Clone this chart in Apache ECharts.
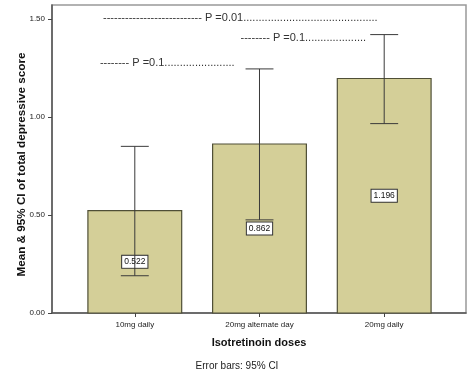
<!DOCTYPE html>
<html><head><meta charset="utf-8">
<script src="https://cdn.jsdelivr.net/npm/echarts@6/dist/echarts.min.js"></script>
<style>html,body{margin:0;padding:0;background:#fff}#c{width:474px;height:379px}</style>
</head><body><div id="c"></div>
<script>
const categories = ['10mg daily', '20mg alternate day', '20mg daily'];
const means = [0.522, 0.862, 1.196];
const ciLower = [0.19, 0.475, 0.966];
const ciUpper = [0.85, 1.245, 1.42];
const yTicks = [0, 0.5, 1.0, 1.5];
const annotations = [
  [-0.255, 1.505, '--------------------------- P =0.01............................................'],
  [0.848, 1.403, '-------- P =0.1....................'],
  [-0.28, 1.275, '-------- P =0.1.......................']
];

const FONT = '"Liberation Sans", Arial, sans-serif';
const chart = echarts.init(document.getElementById('c'), null, {renderer: 'canvas'});
const catIdx = categories.map((c, i) => i);

chart.setOption({
  animation: false,
  backgroundColor: '#fff',
  grid: {left: 52, right: 8, top: 5, bottom: 66, show: true, borderColor: '#999', borderWidth: 1.5, backgroundColor: 'transparent', outerBoundsMode: 'none'},
  xAxis: {
    type: 'value', min: -0.664, max: 2.656,
    splitLine: {show: false},
    axisLine: {show: true, onZero: false, lineStyle: {color: '#555', width: 1.5}},
    axisTick: {show: true, customValues: catIdx, length: 4, lineStyle: {color: '#444'}},
    axisLabel: {show: true, customValues: catIdx, formatter: v => categories[Math.round(v)], fontSize: 8, color: '#222', fontFamily: FONT, margin: 8},
    name: 'Isotretinoin doses', nameLocation: 'middle', nameGap: 24, nameMoveOverlap: false,
    nameTextStyle: {fontSize: 11, fontWeight: 'bold', color: '#111', fontFamily: FONT}
  },
  yAxis: {
    type: 'value', min: 0, max: 1.571,
    splitLine: {show: false},
    axisLine: {show: true, onZero: false, lineStyle: {color: '#555', width: 1.5}},
    axisTick: {show: true, customValues: yTicks, length: 4, lineStyle: {color: '#444'}},
    axisLabel: {customValues: yTicks, formatter: v => v.toFixed(2), fontSize: 8, color: '#222', fontFamily: FONT, margin: 7},
    name: 'Mean & 95% CI of total depressive score', nameLocation: 'middle', nameGap: 24, nameMoveOverlap: false,
    nameTextStyle: {fontSize: 11.7, fontWeight: 'bold', color: '#111', fontFamily: FONT, padding: [0, 11, 0, 0]}
  },
  graphic: [{
    type: 'text', left: 'center', top: 361,
    style: {text: 'Error bars: 95% CI', fontSize: 10, fill: '#222', fontFamily: FONT},
    x: -22
  }],
  series: [
    {
      type: 'custom', z: 2,
      data: means.map((m, i) => [i, m]),
      renderItem: (params, api) => {
        const i = api.value(0), v = api.value(1);
        const top = api.coord([i, v]);
        const base = api.coord([i, 0]);
        const w = api.size([0.752, 0])[0];
        const mid = api.coord([i, v / 2]);
        return {type: 'group', children: [
          {type: 'rect', shape: {x: top[0] - w / 2, y: top[1], width: w, height: base[1] - top[1]},
           style: {fill: '#d4cf98', stroke: '#4f4f36', lineWidth: 1.2}},
          {type: 'text', z2: 10, x: mid[0], y: mid[1],
           style: {text: v.toFixed(3), fontSize: 8.5, fontFamily: FONT, fill: '#111', align: 'center', verticalAlign: 'middle',
                   backgroundColor: '#fff', borderColor: '#333', borderWidth: 1, padding: [2, 2, 1, 2]}}
        ]};
      }
    },
    {
      type: 'custom', z: 3,
      data: ciLower.map((l, i) => [i, l, ciUpper[i]]),
      renderItem: (params, api) => {
        const i = api.value(0);
        const lo = api.coord([i, api.value(1)]);
        const hi = api.coord([i, api.value(2)]);
        const hw = api.size([0.112, 0])[0];
        const st = {stroke: '#3a3a3a', lineWidth: 1};
        return {type: 'group', children: [
          {type: 'line', shape: {x1: lo[0], y1: lo[1], x2: hi[0], y2: hi[1]}, style: st},
          {type: 'line', shape: {x1: lo[0] - hw, y1: lo[1], x2: lo[0] + hw, y2: lo[1]}, style: st},
          {type: 'line', shape: {x1: hi[0] - hw, y1: hi[1], x2: hi[0] + hw, y2: hi[1]}, style: st}
        ]};
      }
    },
    {
      type: 'custom', z: 4,
      data: annotations,
      renderItem: (params, api) => {
        const d = annotations[params.dataIndex];
        const p = api.coord([d[0], d[1]]);
        return {type: 'text', x: p[0], y: p[1],
          style: {text: d[2], fontSize: 11, fontFamily: FONT, fill: '#333', align: 'left', verticalAlign: 'middle'}};
      }
    }
  ]
});
</script></body></html>
